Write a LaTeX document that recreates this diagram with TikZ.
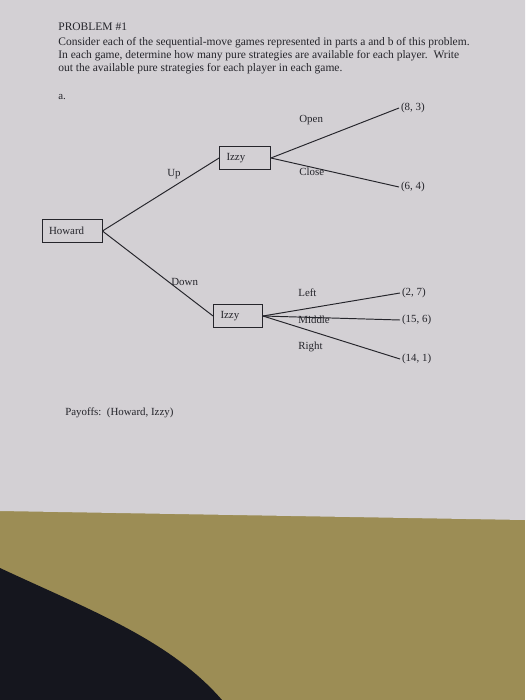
\documentclass[tikz,border=0pt]{standalone}
\usepackage{fontspec}
\setmainfont{Liberation Serif}
\usepackage{xcolor}
\usetikzlibrary{positioning}
\definecolor{paper}{HTML}{D3D0D4}
\definecolor{ink}{HTML}{25252B}
\definecolor{fabric}{HTML}{9C8D55}
\definecolor{shadow}{HTML}{15161E}
\tikzset{
  player/.style={
    draw=ink,
    line width=0.5pt,
    inner xsep=0.14cm,
    inner ysep=0pt,
    minimum height=0.45cm,
    align=left,
    font=\fontsize{6.2}{7.4}\selectfont,
    text=ink
  },
  branch/.style={line width=0.55pt, draw=ink},
  movelabel/.style={anchor=west, inner sep=0pt, font=\fontsize{6.2}{7.4}\selectfont, text=ink},
  payoff/.style={anchor=west, inner sep=1pt, font=\fontsize{6.2}{7.4}\selectfont, text=ink}
}
\begin{document}
\begin{tikzpicture}[x=0.02cm,y=-0.02cm]
  \useasboundingbox (0,0) rectangle (525,700);
  % photo background
  \fill[fabric] (0,505) rectangle (525,700);
  \fill[paper] (0,0) -- (525,0) -- (525,520) -- (0,511) -- cycle;
  \fill[shadow] (0,568) .. controls (90,610) and (170,640) .. (222,700) -- (0,700) -- cycle;
  % problem text
  \node[anchor=north west, inner sep=0pt, align=left, text=ink,
        font=\fontsize{6.55}{7.4}\selectfont] (intro) at (58,23)
    {PROBLEM \#1\\[0.6pt]
     Consider each of the sequential-move games represented in parts a and b of this problem.\\
     In each game, determine how many pure strategies are available for each player.\ \ Write\\
     out the available pure strategies for each player in each game.};
  \node[movelabel] (parta) at (58,97) {a.};
  % players
  \node[player, text width=0.92cm] (howard) at (72,231) {Howard};
  \node[player, text width=0.74cm] (izzyup) at (245,158) {Izzy};
  \node[player, text width=0.70cm] (izzydown) at (238,316) {Izzy};
  % payoffs
  \node[payoff] (open) at (399,108) {(8, 3)};
  \node[payoff] (close) at (399,187) {(6, 4)};
  \node[payoff] (left) at (400,293) {(2, 7)};
  \node[payoff] (middle) at (400,320) {(15, 6)};
  \node[payoff] (right) at (400,359) {(14, 1)};
  % branches
  \draw[branch] (howard.east) -- (izzyup.west);
  \draw[branch] (howard.east) -- (izzydown.west);
  \draw[branch] (izzyup.east) -- (open.west);
  \draw[branch] (izzyup.east) -- (close.west);
  \draw[branch] (izzydown.east) -- (left.west);
  \draw[branch] (izzydown.east) -- (middle.west);
  \draw[branch] (izzydown.east) -- (right.west);
  % move labels
  \node[movelabel] (up) at (167,174) {Up};
  \node[movelabel] (down) at (171,282) {Down};
  \node[movelabel] (openlbl) at (299,120) {Open};
  \node[movelabel] (closelbl) at (299,172) {Close};
  \node[movelabel] (leftlbl) at (298,293) {Left};
  \node[movelabel] (middlelbl) at (298,320) {Middle};
  \node[movelabel] (rightlbl) at (298,347) {Right};
  \node[movelabel] (payoffs) at (65,413) {Payoffs:\ \ (Howard, Izzy)};
\end{tikzpicture}
\end{document}
